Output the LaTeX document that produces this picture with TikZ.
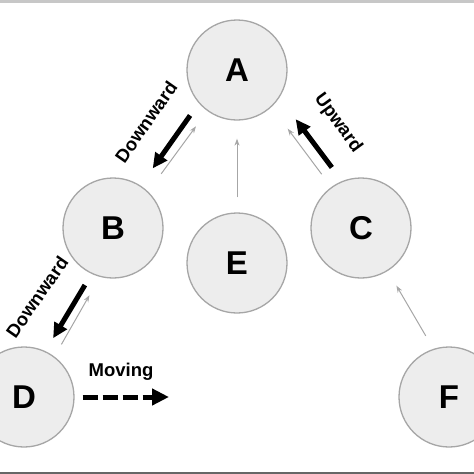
\documentclass[tikz,border=0pt]{standalone}
\usepackage{fontspec}
\setmainfont{Liberation Sans}
\usetikzlibrary{positioning, arrows.meta, calc}

\begin{document}
\begin{tikzpicture}[x=1pt,y=-1pt,
    station/.style={circle, draw=black!35, fill=black!7, line width=1.3pt,
        minimum size=100pt, inner sep=0pt, font=\fontsize{33}{33}\selectfont\bfseries},
    flow/.style={draw=black!35, line width=1pt, -{Stealth[length=7pt,width=5pt]}},
    push/.style={draw=black, line width=5pt, -{Triangle[length=15pt,width=14pt]}},
    tag/.style={font=\fontsize{18.5}{18.5}\selectfont\bfseries, inner sep=0pt}]
        \useasboundingbox (0,0) rectangle (474,474);
        \fill[black!22] (0,0) rectangle (474,2.5);
        \fill[black!60] (0,471.5) rectangle (474,474);

        \node[station] (a) at (237,70) {A};
        \node[station] (b) at (113,228) {B};
        \node[station] (c) at (361,228) {C};
        \node[station] (e) at (237,263) {E};
        \node[station] (d) at (24,397) {D};
        \node[station] (f) at (449,397) {F};
        \coordinate (go) at (169,397);

        % thick arrows
        \draw[push, shorten <=15pt, shorten >=21pt] (a.221) -- (b.57);
        \draw[push, shorten <=17pt, shorten >=27pt] (c.112) -- (a.327);
        \draw[push, shorten <=13pt, shorten >=15pt] (b.245) -- (d.65);
        \draw[push, dash pattern=on 15pt off 5pt,
              -{Triangle[length=17pt,width=16pt]}, shorten <=8pt] (d.east) -- (go);

        % thin arrows
        \draw[flow, shorten <=22pt, shorten >=19pt] (b.46) -- (a.234);
        \draw[flow, shorten <=15pt, shorten >=18pt] (e) -- (a);
        \draw[flow, shorten <=16pt, shorten >=27pt] (c.126) -- (a.313);
        \draw[flow, shorten <=14pt, shorten >=21pt] (d.53) -- (b.255);
        \draw[flow, shorten <=15pt, shorten >=17pt] (f.108) -- (c.302);

        \node[tag, rotate=55] (down1) at (146,122) {Downward};
        \node[tag, rotate=-54] (up) at (338,123) {Upward};
        \node[tag, rotate=55] (down2) at (37,297) {Downward};
        \node[tag] (move) at (121,372) {Moving};
    \end{tikzpicture}
\end{document}
